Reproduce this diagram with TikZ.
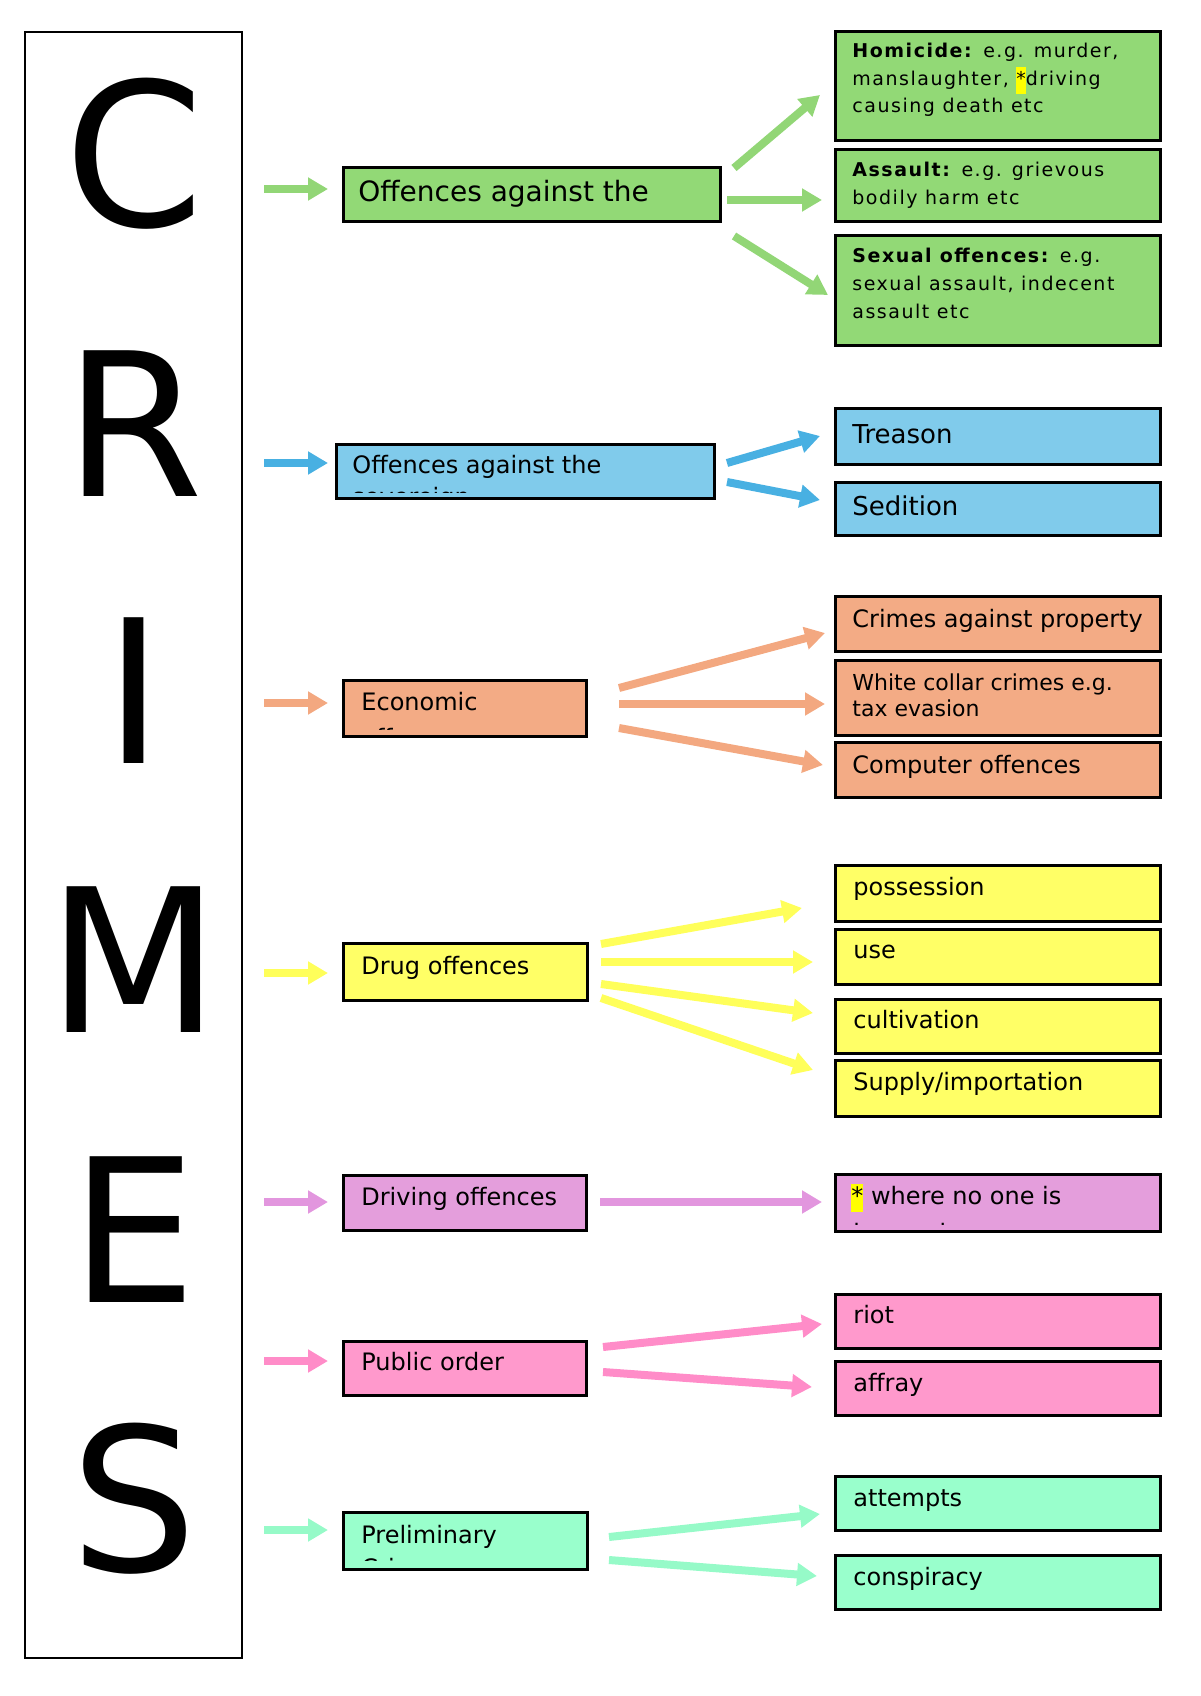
\documentclass[tikz,border=0pt]{standalone}
\usepackage{fontspec}
\setmainfont{DejaVu Sans}
\newfontfamily\spacedfont[LetterSpace=8]{DejaVu Sans}
\usetikzlibrary{arrows.meta,calc,fit}
\definecolor{cgreen}{RGB}{146,217,118}
\definecolor{agreen}{RGB}{146,214,118}
\definecolor{cblue}{RGB}{128,203,235}
\definecolor{ablue}{RGB}{72,176,226}
\definecolor{corange}{RGB}{243,171,133}
\definecolor{aorange}{RGB}{243,168,128}
\definecolor{cyellow}{RGB}{255,255,102}
\definecolor{ayellow}{RGB}{255,255,90}
\definecolor{cviolet}{RGB}{228,158,220}
\definecolor{aviolet}{RGB}{226,150,222}
\definecolor{cpink}{RGB}{255,153,204}
\definecolor{apink}{RGB}{255,140,200}
\definecolor{cmint}{RGB}{153,255,204}
\definecolor{amint}{RGB}{150,250,200}
\definecolor{hlyellow}{RGB}{255,255,0}
\newcommand{\hlstar}{{\setlength{\fboxsep}{0pt}\colorbox{hlyellow}{\strut*}}}
\tikzset{
  box/.style={draw=black, line width=1.5pt, inner sep=0pt, rectangle},
  lbl/.style={anchor=base west, inner sep=0pt},
  fbig/.style={font=\fontsize{14}{16}\selectfont},
  fmid/.style={font=\fontsize{13}{15}\selectfont},
  fnorm/.style={font=\fontsize{12}{14}\selectfont},
  fwc/.style={font=\fontsize{11}{13}\selectfont},
  fsm/.style={font=\spacedfont\fontsize{9.5}{13.5}\selectfont},
  arr/.style={line width=4pt, -{Triangle[length=10pt,width=11pt]}},
  bigletter/.style={inner sep=0pt, font=\fontsize{100}{100}\selectfont},
}
\begin{document}
\begin{tikzpicture}[x=0.5pt,y=-0.5pt]
\useasboundingbox (0,0) rectangle (1200,1696);
% left box with CRIMES
\node[draw=black, line width=1pt, inner sep=0pt, fit={(25,32) (242,1658)}] (crimesbox) {};
\node[bigletter] (lC) at (134,154) {C};
\node[bigletter] (lR) at (134,424) {R};
\node[bigletter] (lI) at (134,691) {I};
\node[bigletter] (lM) at (134,960) {M};
\node[bigletter] (lE) at (134,1230) {E};
\node[bigletter] (lS) at (134,1499) {S};

% ---------- green ----------
\node[box, fill=cgreen, fit={(343,168) (720,222)}] (gmain) {};
\node[lbl, fbig] (gmaint) at (358,202) {Offences against the};
\node[box, fill=cgreen, fit={(835,32) (1160,141)}] (g1) {};
\node[lbl, fsm] (g1a) at (852,58) {\textbf{Homicide:} e.g. murder,};
\node[lbl, fsm] (g1b) at (852,86) {manslaughter, \hlstar driving};
\node[lbl, fsm] (g1c) at (852,113) {causing death etc};
\node[box, fill=cgreen, fit={(835,150) (1160,222)}] (g2) {};
\node[lbl, fsm] (g2a) at (852,177) {\textbf{Assault:} e.g. grievous};
\node[lbl, fsm] (g2b) at (852,205) {bodily harm etc};
\node[box, fill=cgreen, fit={(835,236) (1160,345)}] (g3) {};
\node[lbl, fsm] (g3a) at (852,263) {\textbf{Sexual offences:} e.g.};
\node[lbl, fsm] (g3b) at (852,291) {sexual assault, indecent};
\node[lbl, fsm] (g3c) at (852,318) {assault etc};
\coordinate (gin0) at (264,189); \coordinate (gin1) at (328,189);
\coordinate (go1s) at (734,168); \coordinate (go1e) at (820,95);
\coordinate (go2s) at (727,200); \coordinate (go2e) at (822,200);
\coordinate (go3s) at (734,236); \coordinate (go3e) at (828,295);
\draw[arr, agreen] (gin0) -- (gin1);
\draw[arr, agreen] (go1s) -- (go1e);
\draw[arr, agreen] (go2s) -- (go2e);
\draw[arr, agreen] (go3s) -- (go3e);

% ---------- blue ----------
\node[box, fill=cblue, fit={(336,444) (714,498)}] (bmain) {};
\node[lbl, fnorm] (bmaint) at (352,473) {Offences against the};
\begin{scope}
\clip ($(bmain.north west)+(2,2)$) rectangle ($(bmain.south east)+(-2,-7)$);
\node[lbl, fnorm] (bmaint2) at (352,505) {sovereign};
\end{scope}
\node[box, fill=cblue, fit={(835,408) (1160,464)}] (b1) {};
\node[lbl, fmid] (b1t) at (852,443) {Treason};
\node[box, fill=cblue, fit={(835,482) (1160,535)}] (b2) {};
\node[lbl, fmid] (b2t) at (852,515) {Sedition};
\coordinate (bin0) at (264,463); \coordinate (bin1) at (328,463);
\coordinate (bo1s) at (727,463); \coordinate (bo1e) at (820,436);
\coordinate (bo2s) at (727,482); \coordinate (bo2e) at (820,500);
\draw[arr, ablue] (bin0) -- (bin1);
\draw[arr, ablue] (bo1s) -- (bo1e);
\draw[arr, ablue] (bo2s) -- (bo2e);

% ---------- orange ----------
\node[box, fill=corange, fit={(343,680) (586,736)}] (omain) {};
\node[lbl, fnorm] (omaint) at (361,710) {Economic};
\begin{scope}
\clip ($(omain.north west)+(2,2)$) rectangle ($(omain.south east)+(-2,-8.5)$);
\node[lbl, fnorm] (omaint2) at (361,746) {offences};
\end{scope}
\node[box, fill=corange, fit={(835,596) (1160,651)}] (o1) {};
\node[lbl, fnorm] (o1t) at (852,627) {Crimes against property};
\node[box, fill=corange, fit={(835,660) (1160,735)}] (o2) {};
\node[lbl, fwc] (o2a) at (852,690) {White collar crimes e.g.};
\node[lbl, fwc] (o2b) at (852,716) {tax evasion};
\node[box, fill=corange, fit={(835,742) (1160,797)}] (o3) {};
\node[lbl, fnorm] (o3t) at (852,773) {Computer offences};
\coordinate (oin0) at (264,703); \coordinate (oin1) at (328,703);
\coordinate (oo1s) at (619,688); \coordinate (oo1e) at (825,633);
\coordinate (oo2s) at (619,704); \coordinate (oo2e) at (825,704);
\coordinate (oo3s) at (619,728); \coordinate (oo3e) at (823,765);
\draw[arr, aorange] (oin0) -- (oin1);
\draw[arr, aorange] (oo1s) -- (oo1e);
\draw[arr, aorange] (oo2s) -- (oo2e);
\draw[arr, aorange] (oo3s) -- (oo3e);

% ---------- yellow ----------
\node[box, fill=cyellow, fit={(343,943) (587,1000)}] (ymain) {};
\node[lbl, fnorm] (ymaint) at (361,974) {Drug offences};
\node[box, fill=cyellow, fit={(835,865) (1160,921)}] (y1) {};
\node[lbl, fnorm] (y1t) at (853,895) {possession};
\node[box, fill=cyellow, fit={(835,929) (1160,984)}] (y2) {};
\node[lbl, fnorm] (y2t) at (853,958) {use};
\node[box, fill=cyellow, fit={(835,999) (1160,1053)}] (y3) {};
\node[lbl, fnorm] (y3t) at (853,1028) {cultivation};
\node[box, fill=cyellow, fit={(835,1060) (1160,1116)}] (y4) {};
\node[lbl, fnorm] (y4t) at (853,1090) {Supply/importation};
\coordinate (yin0) at (264,973); \coordinate (yin1) at (328,973);
\coordinate (yo1s) at (601,944); \coordinate (yo1e) at (802,908);
\coordinate (yo2s) at (601,962); \coordinate (yo2e) at (813,962);
\coordinate (yo3s) at (601,984); \coordinate (yo3e) at (813,1013);
\coordinate (yo4s) at (601,998); \coordinate (yo4e) at (813,1070);
\draw[arr, ayellow] (yin0) -- (yin1);
\draw[arr, ayellow] (yo1s) -- (yo1e);
\draw[arr, ayellow] (yo2s) -- (yo2e);
\draw[arr, ayellow] (yo3s) -- (yo3e);
\draw[arr, ayellow] (yo4s) -- (yo4e);

% ---------- violet ----------
\node[box, fill=cviolet, fit={(343,1175) (586,1230)}] (vmain) {};
\node[lbl, fnorm] (vmaint) at (361,1205) {Driving offences};
\node[box, fill=cviolet, fit={(835,1174) (1160,1231)}] (v1) {};
\node[lbl, fnorm] (v1t) at (851,1204) {\hlstar\ where no one is};
\begin{scope}
\clip ($(v1.north west)+(2,2)$) rectangle ($(v1.south east)+(-2,-8)$);
\node[lbl, fnorm] (v1t2) at (853,1241) {harmed};
\end{scope}
\coordinate (vin0) at (264,1202); \coordinate (vin1) at (328,1202);
\coordinate (vo1s) at (600,1202); \coordinate (vo1e) at (822,1202);
\draw[arr, aviolet] (vin0) -- (vin1);
\draw[arr, aviolet] (vo1s) -- (vo1e);

% ---------- pink ----------
\node[box, fill=cpink, fit={(343,1341) (586,1395)}] (pmain) {};
\node[lbl, fnorm] (pmaint) at (361,1370) {Public order};
\node[box, fill=cpink, fit={(835,1294) (1160,1348)}] (p1) {};
\node[lbl, fnorm] (p1t) at (853,1323) {riot};
\node[box, fill=cpink, fit={(835,1361) (1160,1415)}] (p2) {};
\node[lbl, fnorm] (p2t) at (853,1391) {affray};
\coordinate (pin0) at (264,1361); \coordinate (pin1) at (328,1361);
\coordinate (po1s) at (603,1347); \coordinate (po1e) at (822,1324);
\coordinate (po2s) at (603,1372); \coordinate (po2e) at (812,1387);
\draw[arr, apink] (pin0) -- (pin1);
\draw[arr, apink] (po1s) -- (po1e);
\draw[arr, apink] (po2s) -- (po2e);

% ---------- mint ----------
\node[box, fill=cmint, fit={(343,1512) (587,1569)}] (mmain) {};
\node[lbl, fnorm] (mmaint) at (361,1543) {Preliminary};
\begin{scope}
\clip ($(mmain.north west)+(2,2)$) rectangle ($(mmain.south east)+(-2,-10)$);
\node[lbl, fnorm] (mmaint2) at (361,1576) {Crimes};
\end{scope}
\node[box, fill=cmint, fit={(835,1476) (1160,1530)}] (m1) {};
\node[lbl, fnorm] (m1t) at (853,1506) {attempts};
\node[box, fill=cmint, fit={(835,1555) (1160,1609)}] (m2) {};
\node[lbl, fnorm] (m2t) at (853,1585) {conspiracy};
\coordinate (min0) at (264,1530); \coordinate (min1) at (328,1530);
\coordinate (mo1s) at (609,1537); \coordinate (mo1e) at (820,1514);
\coordinate (mo2s) at (609,1560); \coordinate (mo2e) at (817,1576);
\draw[arr, amint] (min0) -- (min1);
\draw[arr, amint] (mo1s) -- (mo1e);
\draw[arr, amint] (mo2s) -- (mo2e);
\end{tikzpicture}
\end{document}
